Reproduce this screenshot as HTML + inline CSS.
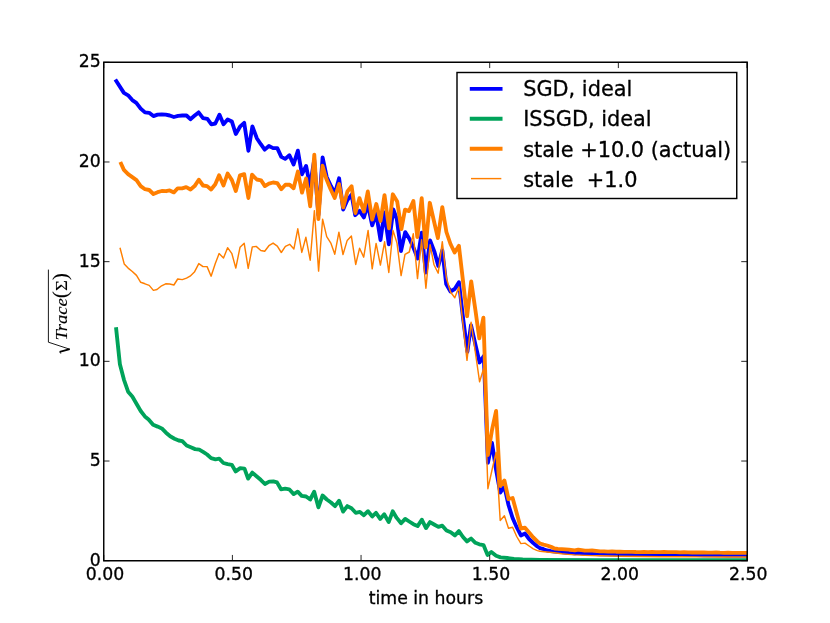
<!DOCTYPE html>
<html><head><meta charset="utf-8"><title>plot</title>
<style>html,body{margin:0;padding:0;background:#fff;overflow:hidden}svg{display:block}</style>
</head><body><svg width="830" height="623" viewBox="0 0 830 623"><defs><clipPath id="ax"><rect x="103.75" y="62.3" width="643.25" height="498.40000000000003"/></clipPath></defs><rect width="830" height="623" fill="#fff"/><g clip-path="url(#ax)" fill="none" stroke-linejoin="round" stroke-linecap="butt"><polyline points="115.3,79.5 123.9,92.9 128.1,95.3 132.3,100.1 136.3,102.8 140.7,108.6 145.0,112.4 149.2,112.8 153.4,116.1 157.6,114.6 161.8,114.3 165.7,114.6 169.7,115.5 173.9,117.0 178.1,115.8 182.3,115.5 186.5,115.5 190.4,119.2 194.4,115.8 198.6,112.4 203.0,118.1 207.4,118.9 211.4,124.3 215.3,123.5 219.5,114.7 223.5,124.3 227.6,119.5 231.9,121.6 235.8,134.0 240.0,126.7 244.2,122.8 248.4,150.8 252.4,126.4 256.8,138.2 260.8,144.2 264.7,149.6 268.9,146.0 273.1,148.1 277.3,148.1 281.3,156.9 285.2,158.9 289.4,155.2 293.6,164.4 297.9,150.7 301.9,174.3 306.1,165.9 310.0,186.0 314.2,160.0 318.4,215.0 322.6,157.5 326.7,177.0 330.9,186.0 334.9,193.5 339.1,178.3 343.2,209.6 347.4,200.0 351.6,194.6 355.2,215.2 359.5,210.9 363.9,217.4 367.8,204.4 372.2,225.4 376.2,213.8 380.5,240.0 384.3,212.4 388.8,244.3 393.3,209.5 396.8,219.0 401.0,251.0 405.2,232.1 409.5,239.0 413.6,248.0 417.7,258.5 421.7,232.6 425.8,272.6 430.1,240.5 434.5,252.0 438.3,266.0 442.3,250.3 446.2,284.0 450.5,291.5 454.7,289.0 458.9,282.2 463.3,320.0 467.4,351.8 471.0,325.1 475.5,345.0 479.6,362.5 483.8,356.0 487.9,462.8 492.0,443.0 496.1,470.0 500.2,492.5 504.4,486.7 508.5,505.0 512.6,518.0 516.7,527.2 520.9,535.4 525.0,533.5 529.1,539.0 533.3,543.0 537.4,546.5 540.0,548.2 543.6,549.2 547.2,550.5 551.0,551.2 554.5,551.6 558.0,551.9 561.7,552.1 565.5,552.5 568.9,552.9 574.7,553.4 578.3,552.9 581.5,553.4 584.8,553.8 588.5,553.9 592.0,553.8 596.0,554.1 600.0,554.3 608.0,554.4 616.0,554.6 624.0,554.7 632.0,554.8 640.0,554.9 648.0,554.8 656.0,555.0 664.0,554.9 672.0,555.1 680.0,555.1 688.0,555.2 696.0,555.1 704.0,555.3 712.0,555.4 720.0,555.4 728.0,555.5 736.0,555.5 750.0,555.6" stroke="#0000ff" stroke-width="3.85"/><polyline points="116.0,327.2 119.9,364.3 123.9,379.6 128.1,391.7 132.3,396.5 136.5,403.7 140.7,411.0 144.9,416.4 148.6,419.4 153.1,424.8 157.6,426.6 161.8,428.4 166.0,432.7 170.2,436.3 174.5,438.7 178.7,440.5 182.3,441.2 186.6,445.5 190.8,447.3 195.1,449.1 199.3,449.7 203.5,452.1 207.1,454.5 211.1,458.1 215.5,459.3 219.2,458.7 223.4,463.0 227.6,464.2 231.8,464.8 235.7,471.4 240.2,468.1 244.5,468.6 248.1,478.6 252.3,472.6 256.5,476.2 260.7,479.8 264.9,484.0 269.2,481.6 273.4,481.4 277.0,482.4 281.0,489.3 285.2,488.7 289.2,489.3 293.7,494.1 297.7,491.7 301.7,495.9 306.1,496.5 310.2,499.5 314.2,491.7 318.4,507.3 322.6,495.5 326.8,499.5 331.0,502.5 335.0,506.1 339.1,500.7 343.1,511.6 347.3,506.1 351.5,508.3 355.7,512.8 359.9,511.9 363.9,515.2 368.0,511.2 372.3,516.4 376.0,512.8 380.2,518.9 384.2,514.3 388.7,522.1 392.7,511.3 396.7,517.9 401.1,523.3 405.2,518.9 409.2,521.5 413.4,524.2 417.6,526.1 421.8,519.7 426.0,528.1 430.0,522.1 434.1,524.5 438.4,526.9 442.3,525.7 446.5,530.5 450.7,532.3 454.9,535.4 458.9,531.1 463.0,537.0 467.0,541.4 471.1,538.5 475.4,542.8 479.3,544.3 483.6,545.2 487.5,554.9 491.3,552.0 496.1,555.8 500.5,557.4 507.2,558.0 514.0,558.8 522.7,559.4 540.0,559.8 600.0,560.1 750.0,560.3" stroke="#00a35a" stroke-width="3.85"/><polyline points="120.3,162.0 123.9,169.9 128.1,174.1 132.3,177.1 136.5,180.1 140.7,186.1 145.0,189.2 149.2,190.0 153.4,194.0 157.6,192.2 161.8,191.0 166.0,191.2 169.7,190.4 173.9,192.4 177.7,188.3 182.1,188.3 186.2,187.1 190.5,189.5 194.6,186.1 198.8,179.7 203.0,185.5 207.1,186.1 211.1,189.5 215.3,184.3 219.1,175.3 223.5,185.5 227.6,173.5 231.9,180.1 235.8,191.0 240.0,175.3 244.2,174.1 248.4,198.0 252.0,174.7 256.8,179.5 261.1,180.4 264.9,186.1 268.9,183.7 273.1,182.5 277.3,183.1 281.3,189.2 285.4,184.7 289.7,184.7 293.6,188.2 297.9,171.5 302.0,192.6 306.1,178.5 310.2,206.3 314.3,154.7 318.4,219.1 322.5,165.7 326.2,178.5 330.5,189.0 334.7,198.0 339.1,184.0 343.2,207.4 347.4,191.5 351.6,186.3 355.4,213.1 359.5,198.1 363.9,211.6 367.8,191.5 372.2,219.6 376.3,204.0 380.5,221.0 384.5,195.1 389.0,228.3 392.8,194.3 397.2,201.5 401.4,229.1 405.0,209.6 409.0,211.1 413.4,201.0 417.3,237.1 421.7,198.1 425.6,247.5 429.8,202.8 433.7,220.0 437.9,238.1 442.3,207.1 446.4,232.0 450.5,244.0 454.6,252.5 458.9,245.8 463.0,281.0 467.1,316.2 471.2,281.4 475.4,310.0 479.3,338.4 483.4,317.6 487.9,455.0 492.0,430.0 496.1,411.0 500.2,486.0 504.4,480.5 508.5,499.0 512.6,498.0 516.7,513.0 520.9,528.5 525.0,527.7 529.1,532.5 533.3,537.5 537.4,541.5 540.0,543.5 543.6,544.6 547.2,545.5 551.6,547.1 554.5,548.5 557.9,548.9 561.7,549.1 565.5,549.4 568.9,549.6 574.7,550.3 578.3,549.6 584.8,550.7 588.5,550.6 592.0,550.5 596.0,550.9 600.0,551.4 604.0,551.3 608.0,551.6 612.0,551.5 616.0,551.7 620.0,551.7 624.0,551.8 628.0,551.9 632.0,551.8 636.0,552.0 640.0,552.1 644.0,552.0 648.0,552.1 652.0,552.0 656.0,552.2 660.0,552.1 664.0,552.0 668.0,552.1 672.0,552.2 676.0,552.1 680.0,552.3 684.0,552.2 688.0,552.4 692.0,552.5 696.0,552.3 700.0,552.5 704.0,552.4 708.0,552.6 712.0,552.7 716.0,552.5 720.0,552.7 724.0,552.8 728.0,552.7 732.0,552.9 736.0,552.8 740.0,552.9 750.0,552.9" stroke="#ff7f00" stroke-width="3.85"/><polyline points="120.0,247.7 124.2,263.9 128.1,268.1 132.3,271.5 136.5,275.4 140.7,282.3 145.0,283.8 149.2,285.4 153.4,290.4 157.0,289.5 161.6,285.8 165.7,283.8 169.7,284.0 173.9,285.0 177.7,279.0 182.3,279.6 186.5,278.1 190.1,276.2 194.4,272.1 198.8,263.6 203.0,266.6 207.1,266.6 211.1,276.2 215.3,263.6 219.1,253.6 223.5,258.1 227.6,247.7 231.9,253.7 235.8,268.1 240.0,247.3 244.2,243.3 248.2,268.4 252.3,246.9 256.2,246.4 260.8,250.5 264.7,251.3 268.9,245.7 273.1,243.1 277.3,246.1 281.3,252.5 285.4,246.4 289.7,244.3 293.9,248.9 297.8,228.8 301.8,252.4 305.9,237.3 310.2,260.2 314.4,210.6 318.6,271.1 322.6,219.2 326.7,236.7 331.0,243.4 334.8,254.2 338.9,232.2 343.0,254.5 347.2,240.4 351.4,236.1 355.7,264.5 359.6,248.2 363.7,257.2 368.1,230.4 372.2,268.9 376.1,243.4 380.4,265.1 384.6,241.8 388.8,272.5 393.0,230.4 397.0,243.1 401.1,275.6 405.0,254.4 409.3,252.0 413.3,233.7 417.5,278.6 421.6,239.8 425.9,288.3 430.1,244.7 434.0,264.8 438.2,273.2 442.3,241.6 446.4,278.0 450.5,292.0 454.8,297.8 458.9,286.9 463.0,324.0 467.0,360.3 471.1,322.2 475.3,352.0 479.6,381.8 483.8,368.0 487.9,488.7 492.0,470.0 496.1,452.5 500.2,520.5 504.4,515.7 508.5,528.2 512.6,527.2 516.7,536.5 520.9,543.6 525.0,543.1 529.1,546.0 533.3,548.9 537.4,550.6 540.0,551.3 547.0,552.0 554.5,552.7 561.7,553.8 568.0,554.4 574.7,554.9 584.8,555.4 592.0,555.6 600.0,555.8 620.0,556.2 640.0,556.5 660.0,556.7 680.0,556.8 700.0,556.9 720.0,557.0 750.0,557.1" stroke="#ff7f00" stroke-width="1.44"/></g><path d="M103.75,560.7v-5.76M103.75,62.3v5.76M103.75,560.70h5.76M747.0,560.70h-5.76M232.40,560.7v-5.76M232.40,62.3v5.76M103.75,461.02h5.76M747.0,461.02h-5.76M361.05,560.7v-5.76M361.05,62.3v5.76M103.75,361.34h5.76M747.0,361.34h-5.76M489.70,560.7v-5.76M489.70,62.3v5.76M103.75,261.66h5.76M747.0,261.66h-5.76M618.35,560.7v-5.76M618.35,62.3v5.76M103.75,161.98h5.76M747.0,161.98h-5.76M747.00,560.7v-5.76M747.00,62.3v5.76M103.75,62.30h5.76M747.0,62.30h-5.76" stroke="#000" stroke-width="0.85" fill="none"/><path d="M103.75,62.3H747.25V560.7H103.75Z" fill="none" stroke="#000" stroke-width="1.44" stroke-linejoin="miter"/><g font-family="DejaVu Sans, Liberation Sans, sans-serif" font-size="17.3" fill="#000" stroke="#000" stroke-width="0.3"><text x="100.79" y="565.80" text-anchor="end">0</text><text x="100.79" y="466.12" text-anchor="end">5</text><text x="100.79" y="366.44" text-anchor="end">10</text><text x="100.79" y="266.76" text-anchor="end">15</text><text x="100.79" y="167.08" text-anchor="end">20</text><text x="100.79" y="67.40" text-anchor="end">25</text><text x="105.05" y="579.96" text-anchor="middle">0.00</text><text x="233.70" y="579.96" text-anchor="middle">0.50</text><text x="362.35" y="579.96" text-anchor="middle">1.00</text><text x="491.00" y="579.96" text-anchor="middle">1.50</text><text x="619.65" y="579.96" text-anchor="middle">2.00</text><text x="748.30" y="579.96" text-anchor="middle">2.50</text><text x="425.98" y="603.6" text-anchor="middle">time in hours</text></g><g transform="translate(66.6,340.5) rotate(-90)"><text x="0" y="0" font-family="Liberation Serif, serif" font-size="17.6" fill="#000" stroke="#000" stroke-width="0.1" textLength="67.6" lengthAdjust="spacingAndGlyphs"><tspan font-style="italic">Trace</tspan><tspan font-size="20.5" dy="0.6">(</tspan><tspan dy="-0.6">Σ</tspan><tspan font-size="20.5" dy="0.6">)</tspan></text></g><path d="M48.4,269.6 V342.2 L69.7,349.2" fill="none" stroke="#000" stroke-width="0.9"/><path d="M69.7,349.2 L59.7,351.8" fill="none" stroke="#000" stroke-width="1.8"/><path d="M59.7,351.8 L60.8,353.6" fill="none" stroke="#000" stroke-width="0.9"/><rect x="457.0" y="72.5" width="279.75" height="126.0" fill="#fff" stroke="#000" stroke-width="1.44"/><line x1="471.7" y1="88.90" x2="500.6" y2="88.90" stroke="#0000ff" stroke-width="3.85" stroke-linecap="square"/><text x="523.2" y="96.40" font-family="DejaVu Sans, Liberation Sans, sans-serif" font-size="20.85" fill="#000" stroke="#000" stroke-width="0.3" style="white-space:pre">SGD, ideal</text><line x1="471.7" y1="118.75" x2="500.6" y2="118.75" stroke="#00a35a" stroke-width="3.85" stroke-linecap="square"/><text x="523.2" y="125.80" font-family="DejaVu Sans, Liberation Sans, sans-serif" font-size="20.85" fill="#000" stroke="#000" stroke-width="0.3" style="white-space:pre">ISSGD, ideal</text><line x1="471.7" y1="148.70" x2="500.6" y2="148.70" stroke="#ff7f00" stroke-width="3.85" stroke-linecap="square"/><text x="523.2" y="156.50" font-family="DejaVu Sans, Liberation Sans, sans-serif" font-size="20.85" fill="#000" stroke="#000" stroke-width="0.3" style="white-space:pre">stale +10.0 (actual)</text><line x1="471.7" y1="178.60" x2="500.6" y2="178.60" stroke="#ff7f00" stroke-width="1.44" stroke-linecap="square"/><text x="523.2" y="187.00" font-family="DejaVu Sans, Liberation Sans, sans-serif" font-size="20.85" fill="#000" stroke="#000" stroke-width="0.3" style="white-space:pre">stale  +1.0</text></svg></body></html>
